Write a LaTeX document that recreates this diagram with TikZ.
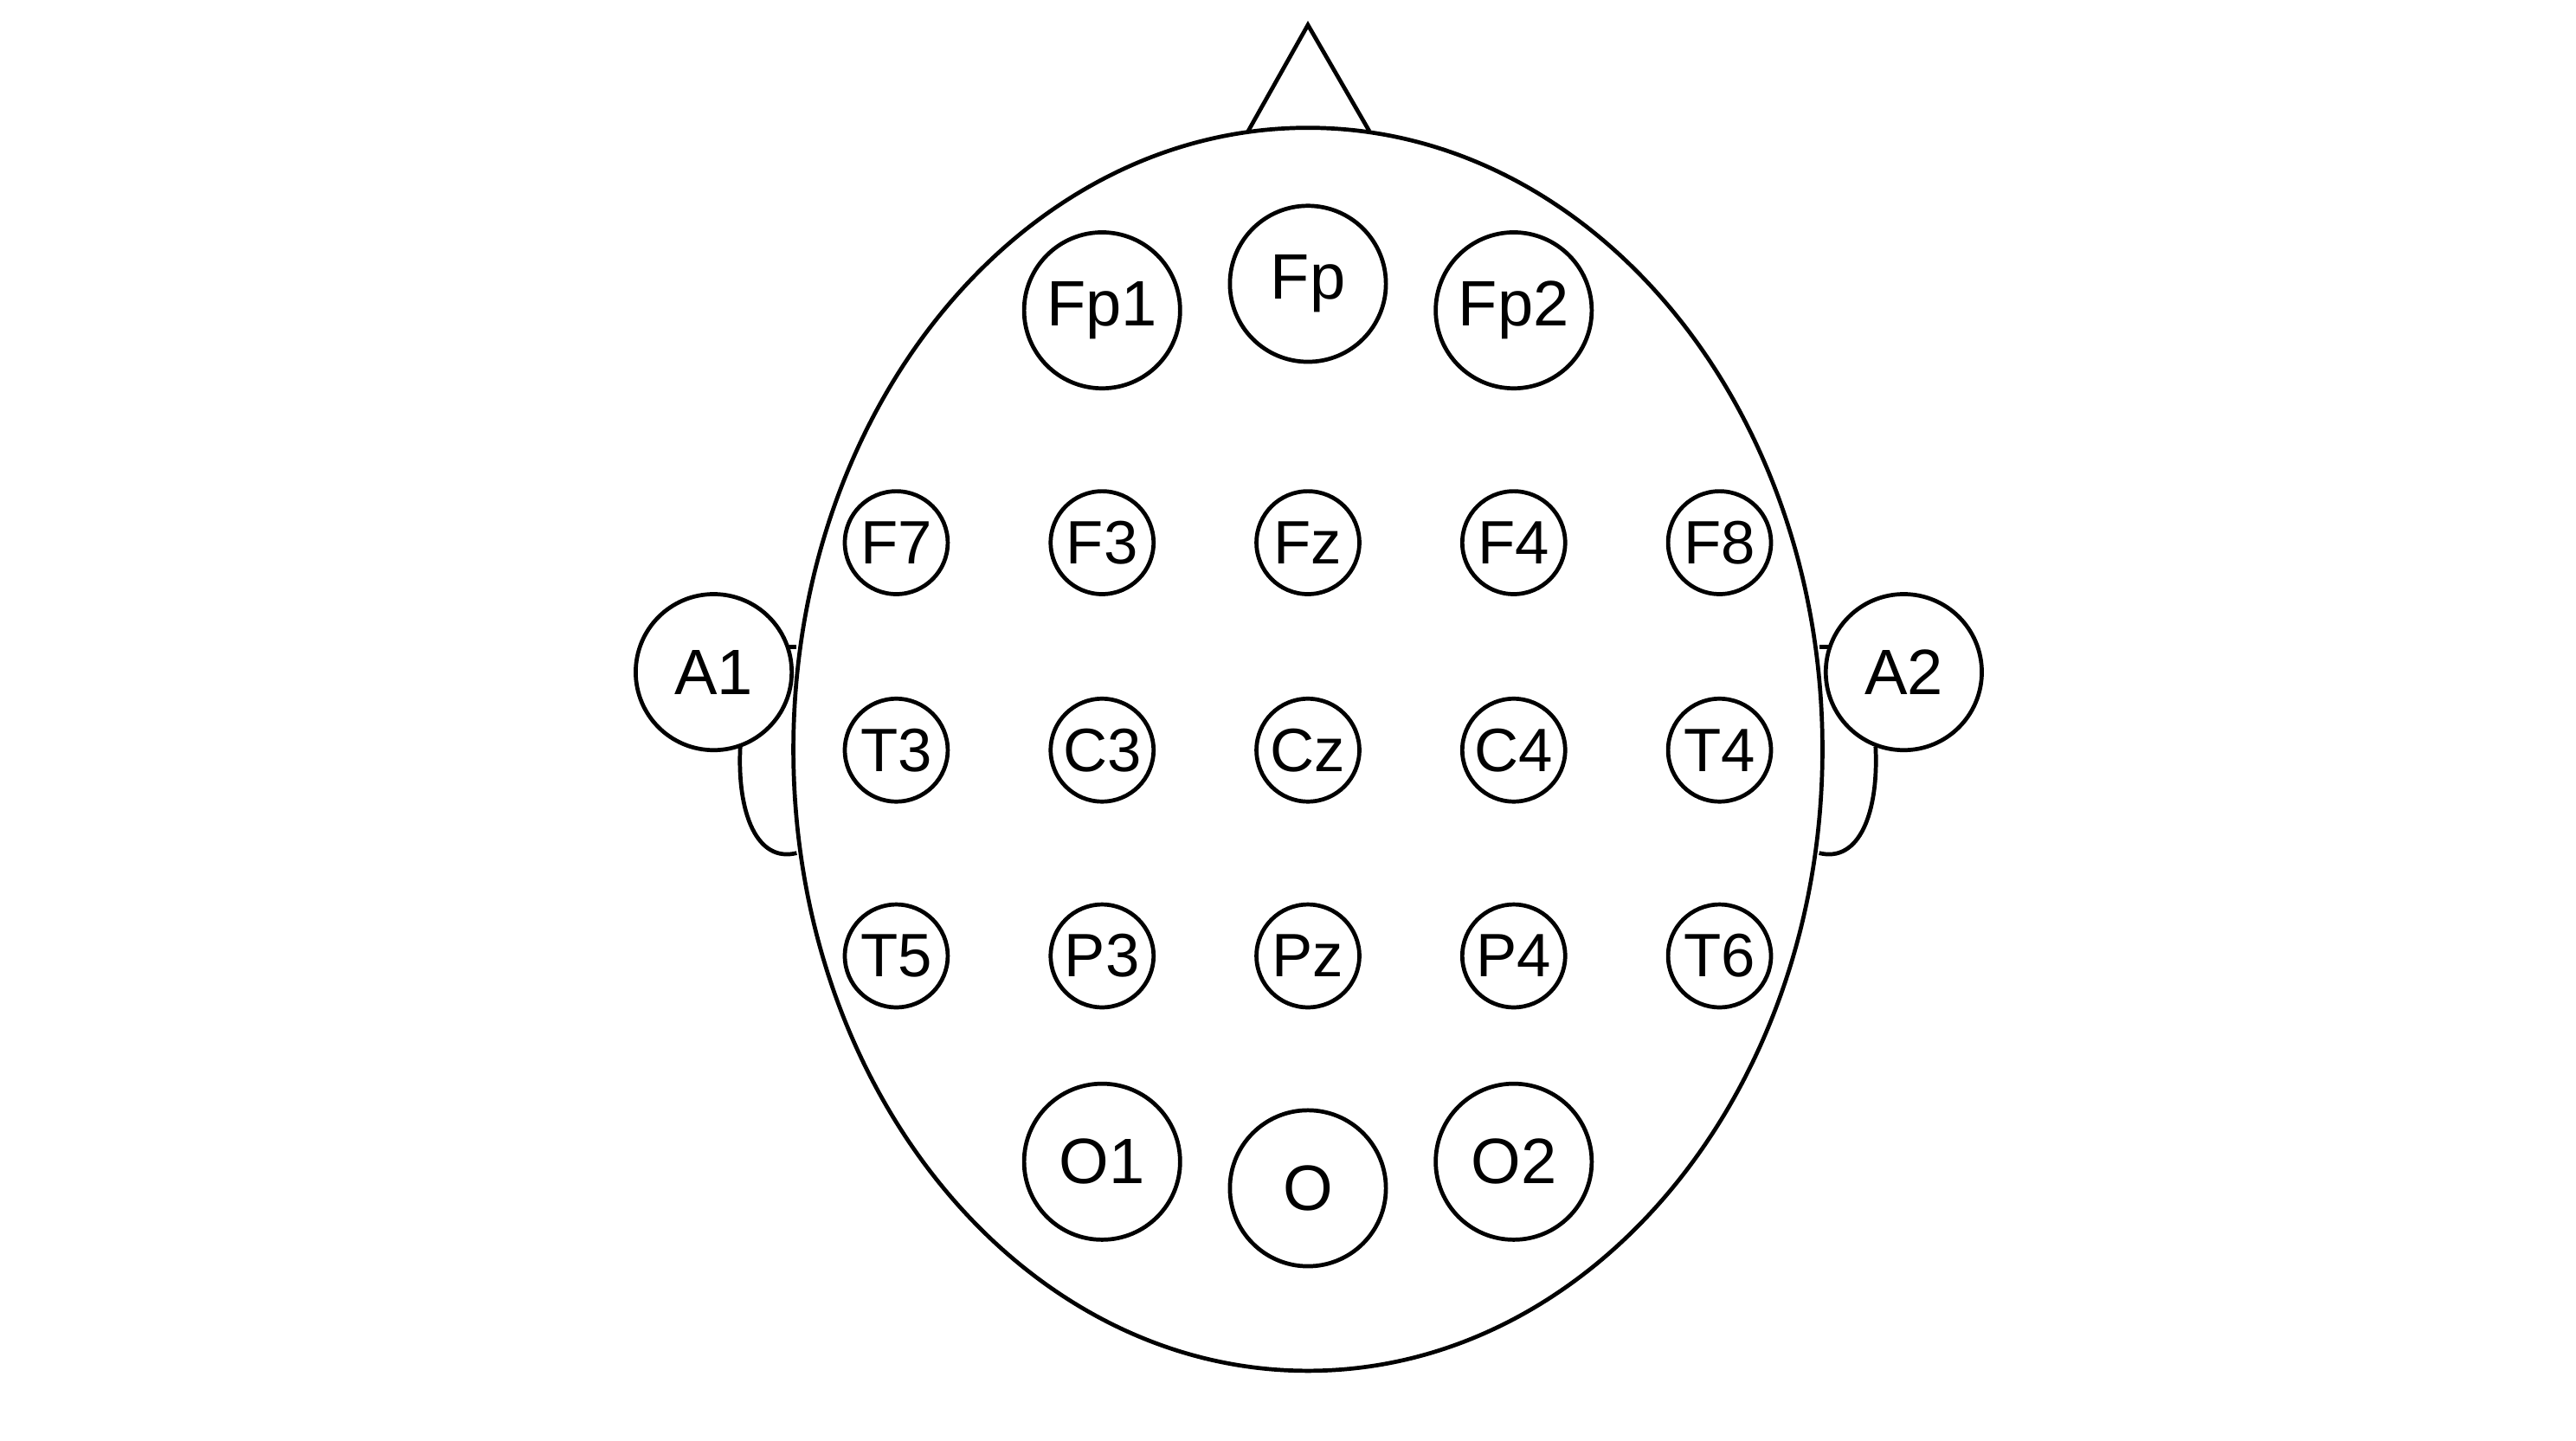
\documentclass[tikz,border=0pt]{standalone}
\usepackage{fontspec}
\setmainfont{Liberation Sans}
\begin{document}
\begin{tikzpicture}[line width=0.7pt,
    big/.style={draw,circle,minimum size=0.94cm,inner sep=0pt,font=\fontsize{11}{13}\selectfont},
    small/.style={draw,circle,minimum size=0.62cm,inner sep=0pt,font=\fontsize{10.5}{12}\selectfont}]
        \useasboundingbox (0,0) rectangle (15.52,-8.68);
        % head and nose
        \draw (7.52,-0.79) -- (7.88,-0.15) -- (8.25,-0.79);
        \draw (7.88,-4.515) ellipse[x radius=3.10cm,y radius=3.745cm];
        % ears
        \draw (4.74,-3.90) -- (4.80,-3.90);
        \draw (10.96,-3.90) -- (11.02,-3.90);
        \draw (4.46,-4.50) .. controls (4.44,-4.90) and (4.56,-5.20) .. (4.80,-5.14);
        \draw (11.30,-4.50) .. controls (11.32,-4.90) and (11.20,-5.20) .. (10.96,-5.14);
        \node[big,fill=white] (A1) at (4.30,-4.05) {A1};
        \node[big,fill=white] (A2) at (11.47,-4.05) {A2};
        % electrodes
        \node[big] (Fp1) at (6.64,-1.87) {Fp1};
        \node[big] (Fp)  at (7.88,-1.71) {Fp};
        \node[big] (Fp2) at (9.12,-1.87) {Fp2};
        \node[big] (O1)  at (6.64,-7.00) {O1};
        \node[big] (O)   at (7.88,-7.16) {O};
        \node[big] (O2)  at (9.12,-7.00) {O2};
        \foreach \name [count=\i] in {F7,F3,Fz,F4,F8}
            \node[small] (\name) at ({5.40+1.24*(\i-1)},-3.27) {\name};
        \foreach \name [count=\i] in {T3,C3,Cz,C4,T4}
            \node[small] (\name) at ({5.40+1.24*(\i-1)},-4.52) {\name};
        \foreach \name [count=\i] in {T5,P3,Pz,P4,T6}
            \node[small] (\name) at ({5.40+1.24*(\i-1)},-5.76) {\name};
\end{tikzpicture}
\end{document}
